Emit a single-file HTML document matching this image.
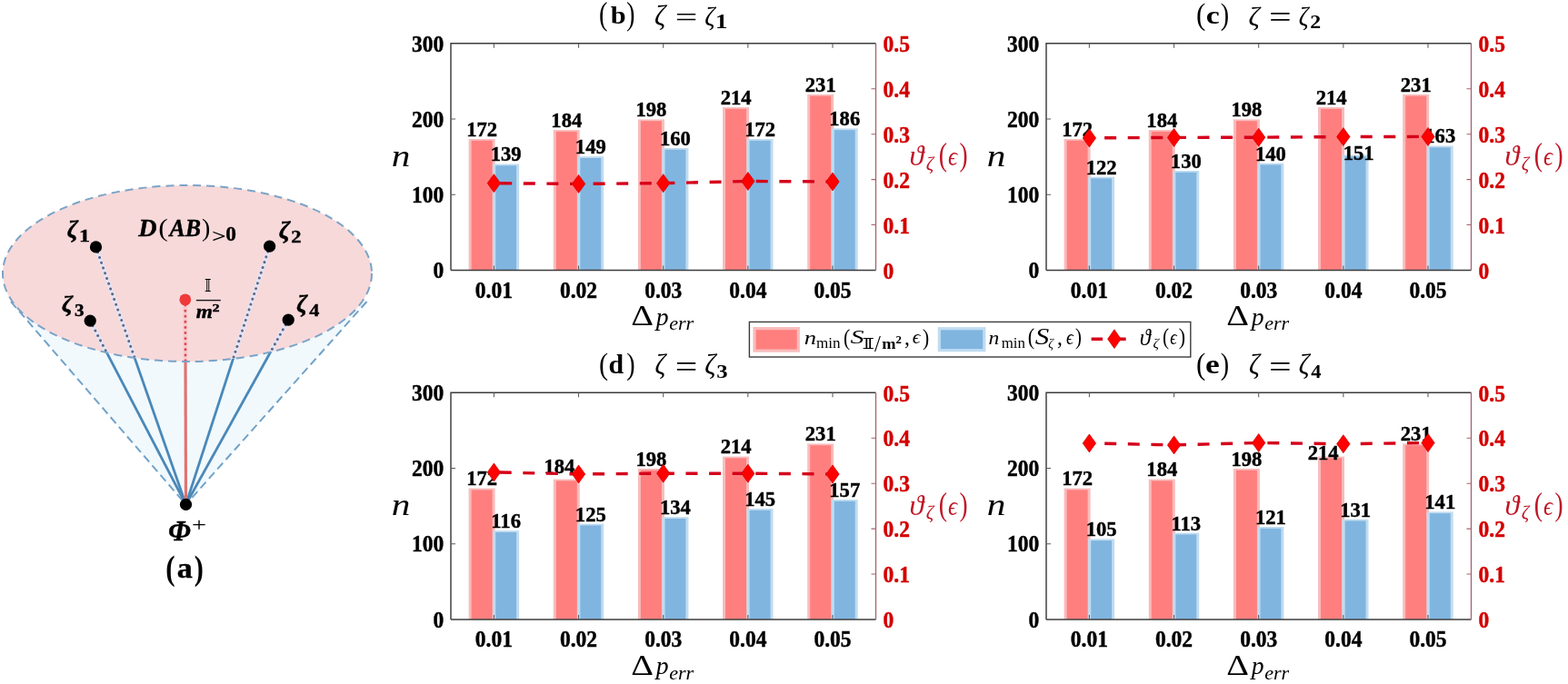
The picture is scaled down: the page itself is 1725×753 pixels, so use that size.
<!DOCTYPE html>
<html><head><meta charset="utf-8"><title>Figure</title>
<style>html,body{margin:0;padding:0;background:#fff;} svg{display:block;}</style></head>
<body><svg width="1725" height="753" viewBox="0 0 1725 753">
<rect width="1725" height="753" fill="#fff"/>
<g id="panel-a">
<polygon points="12,332 204.5,555.4 403.5,332 206,301" fill="#f1f9fd"/>
<line x1="12" y1="332" x2="204.5" y2="555.4" stroke="#72a2c8" stroke-width="2" stroke-dasharray="9 5"/>
<line x1="403.5" y1="332" x2="204.5" y2="555.4" stroke="#72a2c8" stroke-width="2" stroke-dasharray="9 5"/>
<line x1="105.5" y1="271.9" x2="204.5" y2="555.4" stroke="#4a88b8" stroke-width="2.8"/>
<line x1="296.6" y1="271.2" x2="204.5" y2="555.4" stroke="#4a88b8" stroke-width="2.8"/>
<line x1="99.2" y1="353.2" x2="204.5" y2="555.4" stroke="#4a88b8" stroke-width="2.8"/>
<line x1="317.2" y1="352.2" x2="204.5" y2="555.4" stroke="#4a88b8" stroke-width="2.8"/>
<line x1="203.8" y1="329.9" x2="204.5" y2="555.4" stroke="#e27272" stroke-width="3.2"/>
<ellipse cx="206" cy="301" rx="203" ry="97" fill="#f7d9da"/>
<defs><clipPath id="ell"><ellipse cx="206" cy="301" rx="203" ry="97"/></clipPath></defs>
<g clip-path="url(#ell)">
<line x1="105.5" y1="271.9" x2="204.5" y2="555.4" stroke="#e6e3f3" stroke-width="4.6"/>
<line x1="105.5" y1="271.9" x2="204.5" y2="555.4" stroke="#56698a" stroke-width="2.9" stroke-linecap="round" stroke-dasharray="0.1 6"/>
<line x1="296.6" y1="271.2" x2="204.5" y2="555.4" stroke="#e6e3f3" stroke-width="4.6"/>
<line x1="296.6" y1="271.2" x2="204.5" y2="555.4" stroke="#56698a" stroke-width="2.9" stroke-linecap="round" stroke-dasharray="0.1 6"/>
<line x1="99.2" y1="353.2" x2="204.5" y2="555.4" stroke="#e6e3f3" stroke-width="4.6"/>
<line x1="99.2" y1="353.2" x2="204.5" y2="555.4" stroke="#56698a" stroke-width="2.9" stroke-linecap="round" stroke-dasharray="0.1 6"/>
<line x1="317.2" y1="352.2" x2="204.5" y2="555.4" stroke="#e6e3f3" stroke-width="4.6"/>
<line x1="317.2" y1="352.2" x2="204.5" y2="555.4" stroke="#56698a" stroke-width="2.9" stroke-linecap="round" stroke-dasharray="0.1 6"/>
<line x1="203.8" y1="329.9" x2="204.5" y2="555.4" stroke="#f9c8cc" stroke-width="4.6"/>
<line x1="203.8" y1="329.9" x2="204.5" y2="555.4" stroke="#e04450" stroke-width="2.9" stroke-linecap="round" stroke-dasharray="0.1 6"/>
</g>
<ellipse cx="206" cy="301" rx="203" ry="97" fill="none" stroke="#7ba3c6" stroke-width="2" stroke-dasharray="9 6"/>
<circle cx="105.5" cy="271.9" r="6.6" fill="#000"/>
<circle cx="296.6" cy="271.2" r="6.6" fill="#000"/>
<circle cx="99.2" cy="353.2" r="6.6" fill="#000"/>
<circle cx="317.2" cy="352.2" r="6.6" fill="#000"/>
<circle cx="203.8" cy="329.9" r="6.4" fill="#ee3a3a"/>
<circle cx="204.5" cy="555.4" r="6.6" fill="#000"/>
<text x="73.75" y="261.31" font-size="27.16" font-family="Liberation Serif, serif" font-weight="bold" font-style="italic" stroke="#000" stroke-width="0.4">ζ</text>
<text transform="translate(86.98,266.20) scale(1.291,1)" font-size="18.64" font-family="Liberation Serif, serif" font-weight="bold" stroke="#000" stroke-width="0.4">1</text>
<text transform="translate(306.64,261.69) scale(1.049,1)" font-size="26.70" font-family="Liberation Serif, serif" font-weight="bold" font-style="italic" stroke="#000" stroke-width="0.4">ζ</text>
<text transform="translate(320.20,266.90) scale(1.233,1)" font-size="18.18" font-family="Liberation Serif, serif" font-weight="bold" stroke="#000" stroke-width="0.4">2</text>
<text transform="translate(68.05,343.22) scale(1.050,1)" font-size="26.02" font-family="Liberation Serif, serif" font-weight="bold" font-style="italic" stroke="#000" stroke-width="0.4">ζ</text>
<text transform="translate(82.05,348.01) scale(1.126,1)" font-size="18.81" font-family="Liberation Serif, serif" font-weight="bold" stroke="#000" stroke-width="0.4">3</text>
<text x="326.37" y="342.69" font-size="26.70" font-family="Liberation Serif, serif" font-weight="bold" font-style="italic" stroke="#000" stroke-width="0.4">ζ</text>
<text transform="translate(340.17,347.50) scale(1.133,1)" font-size="19.55" font-family="Liberation Serif, serif" font-weight="bold" stroke="#000" stroke-width="0.4">4</text>
<text transform="translate(152.14,259.70) scale(1.016,1)" font-size="27.63" font-family="Liberation Serif, serif" font-weight="bold" font-style="italic" stroke="#000" stroke-width="0.4">D</text>
<text transform="translate(174.19,259.84) scale(1.143,1)" font-size="27.44" font-family="Liberation Serif, serif">(</text>
<text transform="translate(186.59,259.70) scale(0.965,1)" font-size="26.82" font-family="Liberation Serif, serif" font-weight="bold" font-style="italic" stroke="#000" stroke-width="0.4">AB</text>
<text transform="translate(222.06,259.84) scale(1.023,1)" font-size="27.44" font-family="Liberation Serif, serif">)</text>
<text transform="translate(233.01,266.56) scale(1.334,1)" font-size="20.80" font-family="Liberation Serif, serif" font-weight="bold">&gt;</text>
<text transform="translate(248.37,264.68) scale(1.057,1)" font-size="22.07" font-family="Liberation Serif, serif" font-weight="bold" stroke="#000" stroke-width="0.4">0</text>
<text transform="translate(225.08,321.20) scale(0.885,1)" font-size="18.08" font-family="DejaVu Serif, serif">𝕀</text>
<rect x="215.9" y="329.9" width="26.9" height="1.4" fill="#1a1a1a"/>
<text transform="translate(215.73,349.50) scale(1.133,1)" font-size="20.64" font-family="Liberation Serif, serif" font-weight="bold" font-style="italic" stroke="#000" stroke-width="0.4">m</text>
<text transform="translate(233.45,343.20) scale(1.225,1)" font-size="13.18" font-family="Liberation Serif, serif" font-weight="bold" stroke="#000" stroke-width="0.4">2</text>
<text transform="translate(185.00,594.60) scale(0.987,1)" font-size="31.91" font-family="Liberation Serif, serif" font-weight="bold" font-style="italic" stroke="#000" stroke-width="0.4">Φ</text>
<text transform="translate(210.98,584.76) scale(1.308,1)" font-size="21.70" font-family="Liberation Serif, serif">+</text>
<text transform="translate(182.31,637.61) scale(0.835,1)" font-size="37.11" font-family="Liberation Serif, serif" font-weight="bold">(</text>
<text transform="translate(194.68,636.18) scale(1.055,1)" font-size="32.29" font-family="Liberation Serif, serif" font-weight="bold" stroke="#000" stroke-width="0.4">a</text>
<text transform="translate(213.79,637.61) scale(0.819,1)" font-size="37.11" font-family="Liberation Serif, serif" font-weight="bold">)</text>
</g>
<g id="chart-b" transform="translate(0,0)">
<rect x="515.60" y="153.04" width="29.00" height="144.46" fill="#f8bcbc"/>
<rect x="518.60" y="154.84" width="23.00" height="142.66" fill="#ff7f7f"/>
<rect x="542.20" y="180.51" width="28.90" height="116.99" fill="#c0dcf0"/>
<rect x="545.20" y="182.31" width="22.90" height="115.19" fill="#80b5e0"/>
<rect x="608.75" y="143.05" width="29.00" height="154.45" fill="#f8bcbc"/>
<rect x="611.75" y="144.85" width="23.00" height="152.65" fill="#ff7f7f"/>
<rect x="635.35" y="172.18" width="28.90" height="125.32" fill="#c0dcf0"/>
<rect x="638.35" y="173.98" width="22.90" height="123.52" fill="#80b5e0"/>
<rect x="701.90" y="131.40" width="29.00" height="166.10" fill="#f8bcbc"/>
<rect x="704.90" y="133.20" width="23.00" height="164.30" fill="#ff7f7f"/>
<rect x="728.50" y="163.03" width="28.90" height="134.47" fill="#c0dcf0"/>
<rect x="731.50" y="164.83" width="22.90" height="132.67" fill="#80b5e0"/>
<rect x="795.05" y="118.08" width="29.00" height="179.42" fill="#f8bcbc"/>
<rect x="798.05" y="119.88" width="23.00" height="177.62" fill="#ff7f7f"/>
<rect x="821.65" y="153.04" width="28.90" height="144.46" fill="#c0dcf0"/>
<rect x="824.65" y="154.84" width="22.90" height="142.66" fill="#80b5e0"/>
<rect x="888.20" y="103.93" width="29.00" height="193.57" fill="#f8bcbc"/>
<rect x="891.20" y="105.73" width="23.00" height="191.77" fill="#ff7f7f"/>
<rect x="914.80" y="141.39" width="28.90" height="156.11" fill="#c0dcf0"/>
<rect x="917.80" y="143.19" width="22.90" height="154.31" fill="#80b5e0"/>
<path d="M496.0,297.5 L496.0,47.8 L963.5,47.8" fill="none" stroke="#3c3c3c" stroke-width="1.45"/>
<path d="M496.0,297.5 L963.5,297.5" fill="none" stroke="#3c3c3c" stroke-width="1.45"/>
<path d="M963.5,47.8 L963.5,297.5" fill="none" stroke="#a8606c" stroke-width="1.3"/>
<path d="M496.0,214.27 h5 M496.0,131.03 h5" stroke="#5a5a5a" stroke-width="1.05"/>
<path d="M963.5,247.56 h-5 M963.5,197.62 h-5 M963.5,147.68 h-5 M963.5,97.74 h-5" stroke="#a8606c" stroke-width="1.1"/>
<path d="M543.40,297.5 v-5 M543.40,47.8 v5 M636.55,297.5 v-5 M636.55,47.8 v5 M729.70,297.5 v-5 M729.70,47.8 v5 M822.85,297.5 v-5 M822.85,47.8 v5 M916.00,297.5 v-5 M916.00,47.8 v5" stroke="#5a5a5a" stroke-width="1.05"/>
<text transform="translate(488.2,306.20) scale(0.96,1)" font-size="24.5" font-family="Liberation Serif, serif" font-weight="bold" text-anchor="end" stroke="#000" stroke-width="0.45">0</text>
<text transform="translate(488.2,222.97) scale(0.96,1)" font-size="24.5" font-family="Liberation Serif, serif" font-weight="bold" text-anchor="end" stroke="#000" stroke-width="0.45">100</text>
<text transform="translate(488.2,139.73) scale(0.96,1)" font-size="24.5" font-family="Liberation Serif, serif" font-weight="bold" text-anchor="end" stroke="#000" stroke-width="0.45">200</text>
<text transform="translate(488.2,56.50) scale(0.96,1)" font-size="24.5" font-family="Liberation Serif, serif" font-weight="bold" text-anchor="end" stroke="#000" stroke-width="0.45">300</text>
<text transform="translate(971.6,306.70) scale(0.96,1)" font-size="24.5" font-family="Liberation Serif, serif" font-weight="bold" fill="#d40000" stroke="#d40000" stroke-width="0.45">0</text>
<text transform="translate(971.6,256.76) scale(0.96,1)" font-size="24.5" font-family="Liberation Serif, serif" font-weight="bold" fill="#d40000" stroke="#d40000" stroke-width="0.45">0.1</text>
<text transform="translate(971.6,206.82) scale(0.96,1)" font-size="24.5" font-family="Liberation Serif, serif" font-weight="bold" fill="#d40000" stroke="#d40000" stroke-width="0.45">0.2</text>
<text transform="translate(971.6,156.88) scale(0.96,1)" font-size="24.5" font-family="Liberation Serif, serif" font-weight="bold" fill="#d40000" stroke="#d40000" stroke-width="0.45">0.3</text>
<text transform="translate(971.6,106.94) scale(0.96,1)" font-size="24.5" font-family="Liberation Serif, serif" font-weight="bold" fill="#d40000" stroke="#d40000" stroke-width="0.45">0.4</text>
<text transform="translate(971.6,57.00) scale(0.96,1)" font-size="24.5" font-family="Liberation Serif, serif" font-weight="bold" fill="#d40000" stroke="#d40000" stroke-width="0.45">0.5</text>
<text transform="translate(543.40,327.5) scale(0.96,1)" font-size="24.5" font-family="Liberation Serif, serif" font-weight="bold" text-anchor="middle" stroke="#000" stroke-width="0.45">0.01</text>
<text transform="translate(636.55,327.5) scale(0.96,1)" font-size="24.5" font-family="Liberation Serif, serif" font-weight="bold" text-anchor="middle" stroke="#000" stroke-width="0.45">0.02</text>
<text transform="translate(729.70,327.5) scale(0.96,1)" font-size="24.5" font-family="Liberation Serif, serif" font-weight="bold" text-anchor="middle" stroke="#000" stroke-width="0.45">0.03</text>
<text transform="translate(822.85,327.5) scale(0.96,1)" font-size="24.5" font-family="Liberation Serif, serif" font-weight="bold" text-anchor="middle" stroke="#000" stroke-width="0.45">0.04</text>
<text transform="translate(916.00,327.5) scale(0.96,1)" font-size="24.5" font-family="Liberation Serif, serif" font-weight="bold" text-anchor="middle" stroke="#000" stroke-width="0.45">0.05</text>
<text transform="translate(530.15,149.94) scale(0.95,1)" font-size="23.8" font-family="Liberation Serif, serif" font-weight="bold" text-anchor="middle" stroke="#000" stroke-width="0.45">172</text>
<text transform="translate(556.65,177.41) scale(0.95,1)" font-size="23.8" font-family="Liberation Serif, serif" font-weight="bold" text-anchor="middle" stroke="#000" stroke-width="0.45">139</text>
<text transform="translate(623.30,139.95) scale(0.95,1)" font-size="23.8" font-family="Liberation Serif, serif" font-weight="bold" text-anchor="middle" stroke="#000" stroke-width="0.45">184</text>
<text transform="translate(649.80,169.08) scale(0.95,1)" font-size="23.8" font-family="Liberation Serif, serif" font-weight="bold" text-anchor="middle" stroke="#000" stroke-width="0.45">149</text>
<text transform="translate(716.45,128.30) scale(0.95,1)" font-size="23.8" font-family="Liberation Serif, serif" font-weight="bold" text-anchor="middle" stroke="#000" stroke-width="0.45">198</text>
<text transform="translate(742.95,159.93) scale(0.95,1)" font-size="23.8" font-family="Liberation Serif, serif" font-weight="bold" text-anchor="middle" stroke="#000" stroke-width="0.45">160</text>
<text transform="translate(809.60,114.98) scale(0.95,1)" font-size="23.8" font-family="Liberation Serif, serif" font-weight="bold" text-anchor="middle" stroke="#000" stroke-width="0.45">214</text>
<text transform="translate(836.10,149.94) scale(0.95,1)" font-size="23.8" font-family="Liberation Serif, serif" font-weight="bold" text-anchor="middle" stroke="#000" stroke-width="0.45">172</text>
<text transform="translate(902.75,100.83) scale(0.95,1)" font-size="23.8" font-family="Liberation Serif, serif" font-weight="bold" text-anchor="middle" stroke="#000" stroke-width="0.45">231</text>
<text transform="translate(929.25,138.29) scale(0.95,1)" font-size="23.8" font-family="Liberation Serif, serif" font-weight="bold" text-anchor="middle" stroke="#000" stroke-width="0.45">186</text>
<path d="M543.40,201.70 L636.55,202.40 L729.70,201.70 L822.85,199.50 L916.00,200.00" fill="none" stroke="#d5001a" stroke-width="3.4" stroke-dasharray="13.0 12.600000000000001" stroke-dashoffset="18.80"/>
<polygon points="543.40,191.70 550.60,201.70 543.40,211.70 536.20,201.70" fill="#ff0000" stroke="#c80000" stroke-width="0.7"/>
<polygon points="636.55,192.40 643.75,202.40 636.55,212.40 629.35,202.40" fill="#ff0000" stroke="#c80000" stroke-width="0.7"/>
<polygon points="729.70,191.70 736.90,201.70 729.70,211.70 722.50,201.70" fill="#ff0000" stroke="#c80000" stroke-width="0.7"/>
<polygon points="822.85,189.50 830.05,199.50 822.85,209.50 815.65,199.50" fill="#ff0000" stroke="#c80000" stroke-width="0.7"/>
<polygon points="916.00,190.00 923.20,200.00 916.00,210.00 908.80,200.00" fill="#ff0000" stroke="#c80000" stroke-width="0.7"/>
<text transform="translate(430.76,182.90) scale(1.217,1)" font-size="33.83" font-family="Liberation Serif, serif" font-style="italic">n</text>
<text transform="translate(1000.45,182.29) scale(1.029,1)" font-size="31.35" font-family="Liberation Serif, serif" font-style="italic" fill="#c01526">ϑ</text>
<text transform="translate(1018.87,186.99) scale(0.984,1)" font-size="21.26" font-family="Liberation Serif, serif" font-style="italic" fill="#c01526">ζ</text>
<text transform="translate(1032.65,182.40) scale(0.801,1)" font-size="34.78" font-family="Liberation Serif, serif" fill="#c01526">(</text>
<text transform="translate(1042.94,182.30) scale(0.840,1)" font-size="30.00" font-family="Liberation Serif, serif" font-style="italic" fill="#c01526">ϵ</text>
<text transform="translate(1055.48,182.40) scale(0.785,1)" font-size="34.78" font-family="Liberation Serif, serif" fill="#c01526">)</text>
<text transform="translate(694.36,358.00) scale(1.207,1)" font-size="31.82" font-family="Liberation Serif, serif">Δ</text>
<text x="721.85" y="357.99" font-size="27.65" font-family="Liberation Serif, serif" font-style="italic">p</text>
<text transform="translate(736.14,363.00) scale(1.105,1)" font-size="20.00" font-family="Liberation Serif, serif" font-style="italic">err</text>
<text transform="translate(659.03,27.10) scale(0.812,1)" font-size="34.78" font-family="Liberation Serif, serif">(</text>
<text transform="translate(671.84,25.82) scale(1.075,1)" font-size="28.29" font-family="Liberation Serif, serif" font-weight="bold">b</text>
<text transform="translate(689.37,27.10) scale(0.796,1)" font-size="34.78" font-family="Liberation Serif, serif">)</text>
<text transform="translate(719.99,27.70) scale(0.989,1)" font-size="30.57" font-family="Liberation Serif, serif" font-style="italic">ζ</text>
<text transform="translate(742.72,28.99) scale(1.495,1)" font-size="29.20" font-family="Liberation Serif, serif">=</text>
<text transform="translate(775.36,27.80) scale(0.930,1)" font-size="30.00" font-family="Liberation Serif, serif" font-style="italic">ζ</text>
<text transform="translate(787.06,31.30) scale(1.210,1)" font-size="22.12" font-family="Liberation Serif, serif" font-weight="bold">1</text>
</g>
<g id="chart-c" transform="translate(655,0)">
<rect x="515.60" y="153.04" width="29.00" height="144.46" fill="#f8bcbc"/>
<rect x="518.60" y="154.84" width="23.00" height="142.66" fill="#ff7f7f"/>
<rect x="542.20" y="194.66" width="28.90" height="102.84" fill="#c0dcf0"/>
<rect x="545.20" y="196.46" width="22.90" height="101.04" fill="#80b5e0"/>
<rect x="608.75" y="143.05" width="29.00" height="154.45" fill="#f8bcbc"/>
<rect x="611.75" y="144.85" width="23.00" height="152.65" fill="#ff7f7f"/>
<rect x="635.35" y="188.00" width="28.90" height="109.50" fill="#c0dcf0"/>
<rect x="638.35" y="189.80" width="22.90" height="107.70" fill="#80b5e0"/>
<rect x="701.90" y="131.40" width="29.00" height="166.10" fill="#f8bcbc"/>
<rect x="704.90" y="133.20" width="23.00" height="164.30" fill="#ff7f7f"/>
<rect x="728.50" y="179.67" width="28.90" height="117.83" fill="#c0dcf0"/>
<rect x="731.50" y="181.47" width="22.90" height="116.03" fill="#80b5e0"/>
<rect x="795.05" y="118.08" width="29.00" height="179.42" fill="#f8bcbc"/>
<rect x="798.05" y="119.88" width="23.00" height="177.62" fill="#ff7f7f"/>
<rect x="821.65" y="170.52" width="28.90" height="126.98" fill="#c0dcf0"/>
<rect x="824.65" y="172.32" width="22.90" height="125.18" fill="#80b5e0"/>
<rect x="888.20" y="103.93" width="29.00" height="193.57" fill="#f8bcbc"/>
<rect x="891.20" y="105.73" width="23.00" height="191.77" fill="#ff7f7f"/>
<rect x="914.80" y="160.53" width="28.90" height="136.97" fill="#c0dcf0"/>
<rect x="917.80" y="162.33" width="22.90" height="135.17" fill="#80b5e0"/>
<path d="M496.0,297.5 L496.0,47.8 L963.5,47.8" fill="none" stroke="#3c3c3c" stroke-width="1.45"/>
<path d="M496.0,297.5 L963.5,297.5" fill="none" stroke="#3c3c3c" stroke-width="1.45"/>
<path d="M963.5,47.8 L963.5,297.5" fill="none" stroke="#a8606c" stroke-width="1.3"/>
<path d="M496.0,214.27 h5 M496.0,131.03 h5" stroke="#5a5a5a" stroke-width="1.05"/>
<path d="M963.5,247.56 h-5 M963.5,197.62 h-5 M963.5,147.68 h-5 M963.5,97.74 h-5" stroke="#a8606c" stroke-width="1.1"/>
<path d="M543.40,297.5 v-5 M543.40,47.8 v5 M636.55,297.5 v-5 M636.55,47.8 v5 M729.70,297.5 v-5 M729.70,47.8 v5 M822.85,297.5 v-5 M822.85,47.8 v5 M916.00,297.5 v-5 M916.00,47.8 v5" stroke="#5a5a5a" stroke-width="1.05"/>
<text transform="translate(488.2,306.20) scale(0.96,1)" font-size="24.5" font-family="Liberation Serif, serif" font-weight="bold" text-anchor="end" stroke="#000" stroke-width="0.45">0</text>
<text transform="translate(488.2,222.97) scale(0.96,1)" font-size="24.5" font-family="Liberation Serif, serif" font-weight="bold" text-anchor="end" stroke="#000" stroke-width="0.45">100</text>
<text transform="translate(488.2,139.73) scale(0.96,1)" font-size="24.5" font-family="Liberation Serif, serif" font-weight="bold" text-anchor="end" stroke="#000" stroke-width="0.45">200</text>
<text transform="translate(488.2,56.50) scale(0.96,1)" font-size="24.5" font-family="Liberation Serif, serif" font-weight="bold" text-anchor="end" stroke="#000" stroke-width="0.45">300</text>
<text transform="translate(971.6,306.70) scale(0.96,1)" font-size="24.5" font-family="Liberation Serif, serif" font-weight="bold" fill="#d40000" stroke="#d40000" stroke-width="0.45">0</text>
<text transform="translate(971.6,256.76) scale(0.96,1)" font-size="24.5" font-family="Liberation Serif, serif" font-weight="bold" fill="#d40000" stroke="#d40000" stroke-width="0.45">0.1</text>
<text transform="translate(971.6,206.82) scale(0.96,1)" font-size="24.5" font-family="Liberation Serif, serif" font-weight="bold" fill="#d40000" stroke="#d40000" stroke-width="0.45">0.2</text>
<text transform="translate(971.6,156.88) scale(0.96,1)" font-size="24.5" font-family="Liberation Serif, serif" font-weight="bold" fill="#d40000" stroke="#d40000" stroke-width="0.45">0.3</text>
<text transform="translate(971.6,106.94) scale(0.96,1)" font-size="24.5" font-family="Liberation Serif, serif" font-weight="bold" fill="#d40000" stroke="#d40000" stroke-width="0.45">0.4</text>
<text transform="translate(971.6,57.00) scale(0.96,1)" font-size="24.5" font-family="Liberation Serif, serif" font-weight="bold" fill="#d40000" stroke="#d40000" stroke-width="0.45">0.5</text>
<text transform="translate(543.40,327.5) scale(0.96,1)" font-size="24.5" font-family="Liberation Serif, serif" font-weight="bold" text-anchor="middle" stroke="#000" stroke-width="0.45">0.01</text>
<text transform="translate(636.55,327.5) scale(0.96,1)" font-size="24.5" font-family="Liberation Serif, serif" font-weight="bold" text-anchor="middle" stroke="#000" stroke-width="0.45">0.02</text>
<text transform="translate(729.70,327.5) scale(0.96,1)" font-size="24.5" font-family="Liberation Serif, serif" font-weight="bold" text-anchor="middle" stroke="#000" stroke-width="0.45">0.03</text>
<text transform="translate(822.85,327.5) scale(0.96,1)" font-size="24.5" font-family="Liberation Serif, serif" font-weight="bold" text-anchor="middle" stroke="#000" stroke-width="0.45">0.04</text>
<text transform="translate(916.00,327.5) scale(0.96,1)" font-size="24.5" font-family="Liberation Serif, serif" font-weight="bold" text-anchor="middle" stroke="#000" stroke-width="0.45">0.05</text>
<text transform="translate(530.15,149.94) scale(0.95,1)" font-size="23.8" font-family="Liberation Serif, serif" font-weight="bold" text-anchor="middle" stroke="#000" stroke-width="0.45">172</text>
<text transform="translate(556.65,191.56) scale(0.95,1)" font-size="23.8" font-family="Liberation Serif, serif" font-weight="bold" text-anchor="middle" stroke="#000" stroke-width="0.45">122</text>
<text transform="translate(623.30,139.95) scale(0.95,1)" font-size="23.8" font-family="Liberation Serif, serif" font-weight="bold" text-anchor="middle" stroke="#000" stroke-width="0.45">184</text>
<text transform="translate(649.80,184.90) scale(0.95,1)" font-size="23.8" font-family="Liberation Serif, serif" font-weight="bold" text-anchor="middle" stroke="#000" stroke-width="0.45">130</text>
<text transform="translate(716.45,128.30) scale(0.95,1)" font-size="23.8" font-family="Liberation Serif, serif" font-weight="bold" text-anchor="middle" stroke="#000" stroke-width="0.45">198</text>
<text transform="translate(742.95,176.57) scale(0.95,1)" font-size="23.8" font-family="Liberation Serif, serif" font-weight="bold" text-anchor="middle" stroke="#000" stroke-width="0.45">140</text>
<text transform="translate(809.60,114.98) scale(0.95,1)" font-size="23.8" font-family="Liberation Serif, serif" font-weight="bold" text-anchor="middle" stroke="#000" stroke-width="0.45">214</text>
<text transform="translate(839.60,175.92) scale(0.95,1)" font-size="23.8" font-family="Liberation Serif, serif" font-weight="bold" text-anchor="middle" stroke="#000" stroke-width="0.45">151</text>
<text transform="translate(902.75,100.83) scale(0.95,1)" font-size="23.8" font-family="Liberation Serif, serif" font-weight="bold" text-anchor="middle" stroke="#000" stroke-width="0.45">231</text>
<text transform="translate(929.25,157.43) scale(0.95,1)" font-size="23.8" font-family="Liberation Serif, serif" font-weight="bold" text-anchor="middle" stroke="#000" stroke-width="0.45">163</text>
<path d="M543.40,151.90 L636.55,151.40 L729.70,151.20 L822.85,150.60 L916.00,150.40" fill="none" stroke="#d5001a" stroke-width="3.4" stroke-dasharray="13.0 12.600000000000001" stroke-dashoffset="8.90"/>
<polygon points="543.40,141.90 550.60,151.90 543.40,161.90 536.20,151.90" fill="#ff0000" stroke="#c80000" stroke-width="0.7"/>
<polygon points="636.55,141.40 643.75,151.40 636.55,161.40 629.35,151.40" fill="#ff0000" stroke="#c80000" stroke-width="0.7"/>
<polygon points="729.70,141.20 736.90,151.20 729.70,161.20 722.50,151.20" fill="#ff0000" stroke="#c80000" stroke-width="0.7"/>
<polygon points="822.85,140.60 830.05,150.60 822.85,160.60 815.65,150.60" fill="#ff0000" stroke="#c80000" stroke-width="0.7"/>
<polygon points="916.00,140.40 923.20,150.40 916.00,160.40 908.80,150.40" fill="#ff0000" stroke="#c80000" stroke-width="0.7"/>
<text transform="translate(430.76,182.90) scale(1.217,1)" font-size="33.83" font-family="Liberation Serif, serif" font-style="italic">n</text>
<text transform="translate(1000.45,182.29) scale(1.029,1)" font-size="31.35" font-family="Liberation Serif, serif" font-style="italic" fill="#c01526">ϑ</text>
<text transform="translate(1018.87,186.99) scale(0.984,1)" font-size="21.26" font-family="Liberation Serif, serif" font-style="italic" fill="#c01526">ζ</text>
<text transform="translate(1032.65,182.40) scale(0.801,1)" font-size="34.78" font-family="Liberation Serif, serif" fill="#c01526">(</text>
<text transform="translate(1042.94,182.30) scale(0.840,1)" font-size="30.00" font-family="Liberation Serif, serif" font-style="italic" fill="#c01526">ϵ</text>
<text transform="translate(1055.48,182.40) scale(0.785,1)" font-size="34.78" font-family="Liberation Serif, serif" fill="#c01526">)</text>
<text transform="translate(694.36,358.00) scale(1.207,1)" font-size="31.82" font-family="Liberation Serif, serif">Δ</text>
<text x="721.85" y="357.99" font-size="27.65" font-family="Liberation Serif, serif" font-style="italic">p</text>
<text transform="translate(736.14,363.00) scale(1.105,1)" font-size="20.00" font-family="Liberation Serif, serif" font-style="italic">err</text>
<text transform="translate(661.01,27.24) scale(0.908,1)" font-size="34.11" font-family="Liberation Serif, serif">(</text>
<text transform="translate(671.72,25.83) scale(1.237,1)" font-size="27.29" font-family="Liberation Serif, serif" font-weight="bold">c</text>
<text transform="translate(687.66,27.24) scale(0.823,1)" font-size="34.11" font-family="Liberation Serif, serif">)</text>
<text transform="translate(718.39,28.00) scale(1.056,1)" font-size="28.85" font-family="Liberation Serif, serif" font-style="italic">ζ</text>
<text transform="translate(741.11,29.89) scale(1.306,1)" font-size="33.60" font-family="Liberation Serif, serif">=</text>
<text transform="translate(773.80,28.00) scale(0.927,1)" font-size="28.85" font-family="Liberation Serif, serif" font-style="italic">ζ</text>
<text transform="translate(786.15,31.30) scale(1.117,1)" font-size="21.36" font-family="Liberation Serif, serif" font-weight="bold">2</text>
</g>
<g id="chart-d" transform="translate(0,384.5)">
<rect x="515.60" y="153.04" width="29.00" height="144.46" fill="#f8bcbc"/>
<rect x="518.60" y="154.84" width="23.00" height="142.66" fill="#ff7f7f"/>
<rect x="542.20" y="199.65" width="28.90" height="97.85" fill="#c0dcf0"/>
<rect x="545.20" y="201.45" width="22.90" height="96.05" fill="#80b5e0"/>
<rect x="608.75" y="143.05" width="29.00" height="154.45" fill="#f8bcbc"/>
<rect x="611.75" y="144.85" width="23.00" height="152.65" fill="#ff7f7f"/>
<rect x="635.35" y="192.16" width="28.90" height="105.34" fill="#c0dcf0"/>
<rect x="638.35" y="193.96" width="22.90" height="103.54" fill="#80b5e0"/>
<rect x="701.90" y="131.40" width="29.00" height="166.10" fill="#f8bcbc"/>
<rect x="704.90" y="133.20" width="23.00" height="164.30" fill="#ff7f7f"/>
<rect x="728.50" y="184.67" width="28.90" height="112.83" fill="#c0dcf0"/>
<rect x="731.50" y="186.47" width="22.90" height="111.03" fill="#80b5e0"/>
<rect x="795.05" y="118.08" width="29.00" height="179.42" fill="#f8bcbc"/>
<rect x="798.05" y="119.88" width="23.00" height="177.62" fill="#ff7f7f"/>
<rect x="821.65" y="175.51" width="28.90" height="121.99" fill="#c0dcf0"/>
<rect x="824.65" y="177.31" width="22.90" height="120.19" fill="#80b5e0"/>
<rect x="888.20" y="103.93" width="29.00" height="193.57" fill="#f8bcbc"/>
<rect x="891.20" y="105.73" width="23.00" height="191.77" fill="#ff7f7f"/>
<rect x="914.80" y="165.52" width="28.90" height="131.98" fill="#c0dcf0"/>
<rect x="917.80" y="167.32" width="22.90" height="130.18" fill="#80b5e0"/>
<path d="M496.0,297.5 L496.0,47.8 L963.5,47.8" fill="none" stroke="#3c3c3c" stroke-width="1.45"/>
<path d="M496.0,297.5 L963.5,297.5" fill="none" stroke="#3c3c3c" stroke-width="1.45"/>
<path d="M963.5,47.8 L963.5,297.5" fill="none" stroke="#a8606c" stroke-width="1.3"/>
<path d="M496.0,214.27 h5 M496.0,131.03 h5" stroke="#5a5a5a" stroke-width="1.05"/>
<path d="M963.5,247.56 h-5 M963.5,197.62 h-5 M963.5,147.68 h-5 M963.5,97.74 h-5" stroke="#a8606c" stroke-width="1.1"/>
<path d="M543.40,297.5 v-5 M543.40,47.8 v5 M636.55,297.5 v-5 M636.55,47.8 v5 M729.70,297.5 v-5 M729.70,47.8 v5 M822.85,297.5 v-5 M822.85,47.8 v5 M916.00,297.5 v-5 M916.00,47.8 v5" stroke="#5a5a5a" stroke-width="1.05"/>
<text transform="translate(488.2,306.20) scale(0.96,1)" font-size="24.5" font-family="Liberation Serif, serif" font-weight="bold" text-anchor="end" stroke="#000" stroke-width="0.45">0</text>
<text transform="translate(488.2,222.97) scale(0.96,1)" font-size="24.5" font-family="Liberation Serif, serif" font-weight="bold" text-anchor="end" stroke="#000" stroke-width="0.45">100</text>
<text transform="translate(488.2,139.73) scale(0.96,1)" font-size="24.5" font-family="Liberation Serif, serif" font-weight="bold" text-anchor="end" stroke="#000" stroke-width="0.45">200</text>
<text transform="translate(488.2,56.50) scale(0.96,1)" font-size="24.5" font-family="Liberation Serif, serif" font-weight="bold" text-anchor="end" stroke="#000" stroke-width="0.45">300</text>
<text transform="translate(971.6,306.70) scale(0.96,1)" font-size="24.5" font-family="Liberation Serif, serif" font-weight="bold" fill="#d40000" stroke="#d40000" stroke-width="0.45">0</text>
<text transform="translate(971.6,256.76) scale(0.96,1)" font-size="24.5" font-family="Liberation Serif, serif" font-weight="bold" fill="#d40000" stroke="#d40000" stroke-width="0.45">0.1</text>
<text transform="translate(971.6,206.82) scale(0.96,1)" font-size="24.5" font-family="Liberation Serif, serif" font-weight="bold" fill="#d40000" stroke="#d40000" stroke-width="0.45">0.2</text>
<text transform="translate(971.6,156.88) scale(0.96,1)" font-size="24.5" font-family="Liberation Serif, serif" font-weight="bold" fill="#d40000" stroke="#d40000" stroke-width="0.45">0.3</text>
<text transform="translate(971.6,106.94) scale(0.96,1)" font-size="24.5" font-family="Liberation Serif, serif" font-weight="bold" fill="#d40000" stroke="#d40000" stroke-width="0.45">0.4</text>
<text transform="translate(971.6,57.00) scale(0.96,1)" font-size="24.5" font-family="Liberation Serif, serif" font-weight="bold" fill="#d40000" stroke="#d40000" stroke-width="0.45">0.5</text>
<text transform="translate(543.40,327.5) scale(0.96,1)" font-size="24.5" font-family="Liberation Serif, serif" font-weight="bold" text-anchor="middle" stroke="#000" stroke-width="0.45">0.01</text>
<text transform="translate(636.55,327.5) scale(0.96,1)" font-size="24.5" font-family="Liberation Serif, serif" font-weight="bold" text-anchor="middle" stroke="#000" stroke-width="0.45">0.02</text>
<text transform="translate(729.70,327.5) scale(0.96,1)" font-size="24.5" font-family="Liberation Serif, serif" font-weight="bold" text-anchor="middle" stroke="#000" stroke-width="0.45">0.03</text>
<text transform="translate(822.85,327.5) scale(0.96,1)" font-size="24.5" font-family="Liberation Serif, serif" font-weight="bold" text-anchor="middle" stroke="#000" stroke-width="0.45">0.04</text>
<text transform="translate(916.00,327.5) scale(0.96,1)" font-size="24.5" font-family="Liberation Serif, serif" font-weight="bold" text-anchor="middle" stroke="#000" stroke-width="0.45">0.05</text>
<text transform="translate(530.15,149.94) scale(0.95,1)" font-size="23.8" font-family="Liberation Serif, serif" font-weight="bold" text-anchor="middle" stroke="#000" stroke-width="0.45">172</text>
<text transform="translate(556.65,196.55) scale(0.95,1)" font-size="23.8" font-family="Liberation Serif, serif" font-weight="bold" text-anchor="middle" stroke="#000" stroke-width="0.45">116</text>
<text transform="translate(615.40,136.85) scale(0.95,1)" font-size="23.8" font-family="Liberation Serif, serif" font-weight="bold" text-anchor="middle" stroke="#000" stroke-width="0.45">184</text>
<text transform="translate(649.80,189.06) scale(0.95,1)" font-size="23.8" font-family="Liberation Serif, serif" font-weight="bold" text-anchor="middle" stroke="#000" stroke-width="0.45">125</text>
<text transform="translate(716.45,128.30) scale(0.95,1)" font-size="23.8" font-family="Liberation Serif, serif" font-weight="bold" text-anchor="middle" stroke="#000" stroke-width="0.45">198</text>
<text transform="translate(742.95,181.57) scale(0.95,1)" font-size="23.8" font-family="Liberation Serif, serif" font-weight="bold" text-anchor="middle" stroke="#000" stroke-width="0.45">134</text>
<text transform="translate(809.60,114.98) scale(0.95,1)" font-size="23.8" font-family="Liberation Serif, serif" font-weight="bold" text-anchor="middle" stroke="#000" stroke-width="0.45">214</text>
<text transform="translate(836.10,172.41) scale(0.95,1)" font-size="23.8" font-family="Liberation Serif, serif" font-weight="bold" text-anchor="middle" stroke="#000" stroke-width="0.45">145</text>
<text transform="translate(902.75,100.83) scale(0.95,1)" font-size="23.8" font-family="Liberation Serif, serif" font-weight="bold" text-anchor="middle" stroke="#000" stroke-width="0.45">231</text>
<text transform="translate(929.25,162.42) scale(0.95,1)" font-size="23.8" font-family="Liberation Serif, serif" font-weight="bold" text-anchor="middle" stroke="#000" stroke-width="0.45">157</text>
<path d="M543.40,135.40 L636.55,137.40 L729.70,136.70 L822.85,136.70 L916.00,137.40" fill="none" stroke="#d5001a" stroke-width="3.4" stroke-dasharray="13.0 12.600000000000001" stroke-dashoffset="19.30"/>
<polygon points="543.40,125.40 550.60,135.40 543.40,145.40 536.20,135.40" fill="#ff0000" stroke="#c80000" stroke-width="0.7"/>
<polygon points="636.55,127.40 643.75,137.40 636.55,147.40 629.35,137.40" fill="#ff0000" stroke="#c80000" stroke-width="0.7"/>
<polygon points="729.70,126.70 736.90,136.70 729.70,146.70 722.50,136.70" fill="#ff0000" stroke="#c80000" stroke-width="0.7"/>
<polygon points="822.85,126.70 830.05,136.70 822.85,146.70 815.65,136.70" fill="#ff0000" stroke="#c80000" stroke-width="0.7"/>
<polygon points="916.00,127.40 923.20,137.40 916.00,147.40 908.80,137.40" fill="#ff0000" stroke="#c80000" stroke-width="0.7"/>
<text transform="translate(430.76,182.90) scale(1.217,1)" font-size="33.83" font-family="Liberation Serif, serif" font-style="italic">n</text>
<text transform="translate(1000.45,182.29) scale(1.029,1)" font-size="31.35" font-family="Liberation Serif, serif" font-style="italic" fill="#c01526">ϑ</text>
<text transform="translate(1018.87,186.99) scale(0.984,1)" font-size="21.26" font-family="Liberation Serif, serif" font-style="italic" fill="#c01526">ζ</text>
<text transform="translate(1032.65,182.40) scale(0.801,1)" font-size="34.78" font-family="Liberation Serif, serif" fill="#c01526">(</text>
<text transform="translate(1042.94,182.30) scale(0.840,1)" font-size="30.00" font-family="Liberation Serif, serif" font-style="italic" fill="#c01526">ϵ</text>
<text transform="translate(1055.48,182.40) scale(0.785,1)" font-size="34.78" font-family="Liberation Serif, serif" fill="#c01526">)</text>
<text transform="translate(694.36,358.00) scale(1.207,1)" font-size="31.82" font-family="Liberation Serif, serif">Δ</text>
<text x="721.85" y="357.99" font-size="27.65" font-family="Liberation Serif, serif" font-style="italic">p</text>
<text transform="translate(736.14,363.00) scale(1.105,1)" font-size="20.00" font-family="Liberation Serif, serif" font-style="italic">err</text>
<text transform="translate(658.94,27.43) scale(0.897,1)" font-size="33.67" font-family="Liberation Serif, serif">(</text>
<text x="669.60" y="26.90" font-size="29.86" font-family="Liberation Serif, serif" font-weight="bold">d</text>
<text transform="translate(689.26,27.43) scale(0.834,1)" font-size="33.67" font-family="Liberation Serif, serif">)</text>
<text transform="translate(720.53,27.60) scale(0.933,1)" font-size="31.15" font-family="Liberation Serif, serif" font-style="italic">ζ</text>
<text transform="translate(742.72,30.31) scale(1.315,1)" font-size="33.20" font-family="Liberation Serif, serif">=</text>
<text transform="translate(775.29,27.60) scale(0.971,1)" font-size="31.15" font-family="Liberation Serif, serif" font-style="italic">ζ</text>
<text transform="translate(788.21,31.60) scale(1.226,1)" font-size="20.15" font-family="Liberation Serif, serif" font-weight="bold">3</text>
</g>
<g id="chart-e" transform="translate(655,384.5)">
<rect x="515.60" y="153.04" width="29.00" height="144.46" fill="#f8bcbc"/>
<rect x="518.60" y="154.84" width="23.00" height="142.66" fill="#ff7f7f"/>
<rect x="542.20" y="208.81" width="28.90" height="88.69" fill="#c0dcf0"/>
<rect x="545.20" y="210.61" width="22.90" height="86.89" fill="#80b5e0"/>
<rect x="608.75" y="143.05" width="29.00" height="154.45" fill="#f8bcbc"/>
<rect x="611.75" y="144.85" width="23.00" height="152.65" fill="#ff7f7f"/>
<rect x="635.35" y="202.15" width="28.90" height="95.35" fill="#c0dcf0"/>
<rect x="638.35" y="203.95" width="22.90" height="93.55" fill="#80b5e0"/>
<rect x="701.90" y="131.40" width="29.00" height="166.10" fill="#f8bcbc"/>
<rect x="704.90" y="133.20" width="23.00" height="164.30" fill="#ff7f7f"/>
<rect x="728.50" y="195.49" width="28.90" height="102.01" fill="#c0dcf0"/>
<rect x="731.50" y="197.29" width="22.90" height="100.21" fill="#80b5e0"/>
<rect x="795.05" y="118.08" width="29.00" height="179.42" fill="#f8bcbc"/>
<rect x="798.05" y="119.88" width="23.00" height="177.62" fill="#ff7f7f"/>
<rect x="821.65" y="187.16" width="28.90" height="110.34" fill="#c0dcf0"/>
<rect x="824.65" y="188.96" width="22.90" height="108.54" fill="#80b5e0"/>
<rect x="888.20" y="103.93" width="29.00" height="193.57" fill="#f8bcbc"/>
<rect x="891.20" y="105.73" width="23.00" height="191.77" fill="#ff7f7f"/>
<rect x="914.80" y="178.84" width="28.90" height="118.66" fill="#c0dcf0"/>
<rect x="917.80" y="180.64" width="22.90" height="116.86" fill="#80b5e0"/>
<path d="M496.0,297.5 L496.0,47.8 L963.5,47.8" fill="none" stroke="#3c3c3c" stroke-width="1.45"/>
<path d="M496.0,297.5 L963.5,297.5" fill="none" stroke="#3c3c3c" stroke-width="1.45"/>
<path d="M963.5,47.8 L963.5,297.5" fill="none" stroke="#a8606c" stroke-width="1.3"/>
<path d="M496.0,214.27 h5 M496.0,131.03 h5" stroke="#5a5a5a" stroke-width="1.05"/>
<path d="M963.5,247.56 h-5 M963.5,197.62 h-5 M963.5,147.68 h-5 M963.5,97.74 h-5" stroke="#a8606c" stroke-width="1.1"/>
<path d="M543.40,297.5 v-5 M543.40,47.8 v5 M636.55,297.5 v-5 M636.55,47.8 v5 M729.70,297.5 v-5 M729.70,47.8 v5 M822.85,297.5 v-5 M822.85,47.8 v5 M916.00,297.5 v-5 M916.00,47.8 v5" stroke="#5a5a5a" stroke-width="1.05"/>
<text transform="translate(488.2,306.20) scale(0.96,1)" font-size="24.5" font-family="Liberation Serif, serif" font-weight="bold" text-anchor="end" stroke="#000" stroke-width="0.45">0</text>
<text transform="translate(488.2,222.97) scale(0.96,1)" font-size="24.5" font-family="Liberation Serif, serif" font-weight="bold" text-anchor="end" stroke="#000" stroke-width="0.45">100</text>
<text transform="translate(488.2,139.73) scale(0.96,1)" font-size="24.5" font-family="Liberation Serif, serif" font-weight="bold" text-anchor="end" stroke="#000" stroke-width="0.45">200</text>
<text transform="translate(488.2,56.50) scale(0.96,1)" font-size="24.5" font-family="Liberation Serif, serif" font-weight="bold" text-anchor="end" stroke="#000" stroke-width="0.45">300</text>
<text transform="translate(971.6,306.70) scale(0.96,1)" font-size="24.5" font-family="Liberation Serif, serif" font-weight="bold" fill="#d40000" stroke="#d40000" stroke-width="0.45">0</text>
<text transform="translate(971.6,256.76) scale(0.96,1)" font-size="24.5" font-family="Liberation Serif, serif" font-weight="bold" fill="#d40000" stroke="#d40000" stroke-width="0.45">0.1</text>
<text transform="translate(971.6,206.82) scale(0.96,1)" font-size="24.5" font-family="Liberation Serif, serif" font-weight="bold" fill="#d40000" stroke="#d40000" stroke-width="0.45">0.2</text>
<text transform="translate(971.6,156.88) scale(0.96,1)" font-size="24.5" font-family="Liberation Serif, serif" font-weight="bold" fill="#d40000" stroke="#d40000" stroke-width="0.45">0.3</text>
<text transform="translate(971.6,106.94) scale(0.96,1)" font-size="24.5" font-family="Liberation Serif, serif" font-weight="bold" fill="#d40000" stroke="#d40000" stroke-width="0.45">0.4</text>
<text transform="translate(971.6,57.00) scale(0.96,1)" font-size="24.5" font-family="Liberation Serif, serif" font-weight="bold" fill="#d40000" stroke="#d40000" stroke-width="0.45">0.5</text>
<text transform="translate(543.40,327.5) scale(0.96,1)" font-size="24.5" font-family="Liberation Serif, serif" font-weight="bold" text-anchor="middle" stroke="#000" stroke-width="0.45">0.01</text>
<text transform="translate(636.55,327.5) scale(0.96,1)" font-size="24.5" font-family="Liberation Serif, serif" font-weight="bold" text-anchor="middle" stroke="#000" stroke-width="0.45">0.02</text>
<text transform="translate(729.70,327.5) scale(0.96,1)" font-size="24.5" font-family="Liberation Serif, serif" font-weight="bold" text-anchor="middle" stroke="#000" stroke-width="0.45">0.03</text>
<text transform="translate(822.85,327.5) scale(0.96,1)" font-size="24.5" font-family="Liberation Serif, serif" font-weight="bold" text-anchor="middle" stroke="#000" stroke-width="0.45">0.04</text>
<text transform="translate(916.00,327.5) scale(0.96,1)" font-size="24.5" font-family="Liberation Serif, serif" font-weight="bold" text-anchor="middle" stroke="#000" stroke-width="0.45">0.05</text>
<text transform="translate(530.15,149.94) scale(0.95,1)" font-size="23.8" font-family="Liberation Serif, serif" font-weight="bold" text-anchor="middle" stroke="#000" stroke-width="0.45">172</text>
<text transform="translate(556.65,205.71) scale(0.95,1)" font-size="23.8" font-family="Liberation Serif, serif" font-weight="bold" text-anchor="middle" stroke="#000" stroke-width="0.45">105</text>
<text transform="translate(623.30,139.95) scale(0.95,1)" font-size="23.8" font-family="Liberation Serif, serif" font-weight="bold" text-anchor="middle" stroke="#000" stroke-width="0.45">184</text>
<text transform="translate(649.80,199.05) scale(0.95,1)" font-size="23.8" font-family="Liberation Serif, serif" font-weight="bold" text-anchor="middle" stroke="#000" stroke-width="0.45">113</text>
<text transform="translate(716.45,128.30) scale(0.95,1)" font-size="23.8" font-family="Liberation Serif, serif" font-weight="bold" text-anchor="middle" stroke="#000" stroke-width="0.45">198</text>
<text transform="translate(742.95,192.39) scale(0.95,1)" font-size="23.8" font-family="Liberation Serif, serif" font-weight="bold" text-anchor="middle" stroke="#000" stroke-width="0.45">121</text>
<text transform="translate(800.70,121.38) scale(0.95,1)" font-size="23.8" font-family="Liberation Serif, serif" font-weight="bold" text-anchor="middle" stroke="#000" stroke-width="0.45">214</text>
<text transform="translate(836.10,184.06) scale(0.95,1)" font-size="23.8" font-family="Liberation Serif, serif" font-weight="bold" text-anchor="middle" stroke="#000" stroke-width="0.45">131</text>
<text transform="translate(902.75,100.83) scale(0.95,1)" font-size="23.8" font-family="Liberation Serif, serif" font-weight="bold" text-anchor="middle" stroke="#000" stroke-width="0.45">231</text>
<text transform="translate(929.25,175.74) scale(0.95,1)" font-size="23.8" font-family="Liberation Serif, serif" font-weight="bold" text-anchor="middle" stroke="#000" stroke-width="0.45">141</text>
<path d="M543.40,103.40 L636.55,105.40 L729.70,103.00 L822.85,104.20 L916.00,103.00" fill="none" stroke="#d5001a" stroke-width="3.4" stroke-dasharray="13.0 12.600000000000001" stroke-dashoffset="8.80"/>
<polygon points="543.40,93.40 550.60,103.40 543.40,113.40 536.20,103.40" fill="#ff0000" stroke="#c80000" stroke-width="0.7"/>
<polygon points="636.55,95.40 643.75,105.40 636.55,115.40 629.35,105.40" fill="#ff0000" stroke="#c80000" stroke-width="0.7"/>
<polygon points="729.70,93.00 736.90,103.00 729.70,113.00 722.50,103.00" fill="#ff0000" stroke="#c80000" stroke-width="0.7"/>
<polygon points="822.85,94.20 830.05,104.20 822.85,114.20 815.65,104.20" fill="#ff0000" stroke="#c80000" stroke-width="0.7"/>
<polygon points="916.00,93.00 923.20,103.00 916.00,113.00 908.80,103.00" fill="#ff0000" stroke="#c80000" stroke-width="0.7"/>
<text transform="translate(430.76,182.90) scale(1.217,1)" font-size="33.83" font-family="Liberation Serif, serif" font-style="italic">n</text>
<text transform="translate(1000.45,182.29) scale(1.029,1)" font-size="31.35" font-family="Liberation Serif, serif" font-style="italic" fill="#c01526">ϑ</text>
<text transform="translate(1018.87,186.99) scale(0.984,1)" font-size="21.26" font-family="Liberation Serif, serif" font-style="italic" fill="#c01526">ζ</text>
<text transform="translate(1032.65,182.40) scale(0.801,1)" font-size="34.78" font-family="Liberation Serif, serif" fill="#c01526">(</text>
<text transform="translate(1042.94,182.30) scale(0.840,1)" font-size="30.00" font-family="Liberation Serif, serif" font-style="italic" fill="#c01526">ϵ</text>
<text transform="translate(1055.48,182.40) scale(0.785,1)" font-size="34.78" font-family="Liberation Serif, serif" fill="#c01526">)</text>
<text transform="translate(694.36,358.00) scale(1.207,1)" font-size="31.82" font-family="Liberation Serif, serif">Δ</text>
<text x="721.85" y="357.99" font-size="27.65" font-family="Liberation Serif, serif" font-style="italic">p</text>
<text transform="translate(736.14,363.00) scale(1.105,1)" font-size="20.00" font-family="Liberation Serif, serif" font-style="italic">err</text>
<text transform="translate(661.01,27.43) scale(0.920,1)" font-size="33.67" font-family="Liberation Serif, serif">(</text>
<text transform="translate(671.06,26.91) scale(1.203,1)" font-size="29.38" font-family="Liberation Serif, serif" font-weight="bold">e</text>
<text transform="translate(687.66,27.43) scale(0.834,1)" font-size="33.67" font-family="Liberation Serif, serif">)</text>
<text transform="translate(718.92,27.60) scale(0.941,1)" font-size="31.15" font-family="Liberation Serif, serif" font-style="italic">ζ</text>
<text transform="translate(741.11,30.31) scale(1.321,1)" font-size="33.20" font-family="Liberation Serif, serif">=</text>
<text transform="translate(773.73,27.60) scale(0.933,1)" font-size="31.15" font-family="Liberation Serif, serif" font-style="italic">ζ</text>
<text transform="translate(787.36,31.30) scale(1.093,1)" font-size="20.45" font-family="Liberation Serif, serif" font-weight="bold">4</text>
</g>
<g id="legend">
<rect x="824.4" y="354.4" width="485.4" height="38.6" fill="#fff" stroke="#3c3c3c" stroke-width="1.4"/>
<rect x="830.0" y="361.6" width="48.3" height="24.5" fill="#ff7f7f" stroke="#f8bcbc" stroke-width="3.2"/>
<rect x="1033.3" y="361.7" width="49.5" height="24.0" fill="#80b5e0" stroke="#c0dcf0" stroke-width="3.2"/>
<text transform="translate(884.77,378.50) scale(1.250,1)" font-size="21.28" font-family="Liberation Serif, serif" font-style="italic">n</text>
<text transform="translate(897.96,382.80) scale(1.045,1)" font-size="16.36" font-family="Liberation Serif, serif">min</text>
<text transform="translate(928.03,379.73) scale(0.859,1)" font-size="25.11" font-family="Liberation Serif, serif">(</text>
<text transform="translate(935.40,377.79) scale(1.411,1)" font-size="21.34" font-family="Liberation Serif, serif" font-style="italic">S</text>
<text transform="translate(948.16,383.60) scale(1.896,1)" font-size="15.75" font-family="DejaVu Serif, serif">𝕀</text>
<text transform="translate(962.00,387.35) scale(0.975,1)" font-size="25.37" font-family="Liberation Serif, serif">/</text>
<text transform="translate(970.24,383.60) scale(1.120,1)" font-size="16.38" font-family="Liberation Serif, serif" font-weight="bold">m</text>
<text transform="translate(985.49,378.30) scale(1.041,1)" font-size="12.27" font-family="Liberation Serif, serif" font-weight="bold">2</text>
<text transform="translate(995.06,379.72) scale(0.906,1)" font-size="25.88" font-family="Liberation Serif, serif">,</text>
<text transform="translate(1003.66,378.29) scale(1.031,1)" font-size="20.83" font-family="Liberation Serif, serif" font-style="italic">ϵ</text>
<text transform="translate(1015.05,379.73) scale(0.858,1)" font-size="25.11" font-family="Liberation Serif, serif">)</text>
<text transform="translate(1087.48,378.50) scale(1.106,1)" font-size="21.28" font-family="Liberation Serif, serif" font-style="italic">n</text>
<text transform="translate(1101.66,382.80) scale(1.033,1)" font-size="16.36" font-family="Liberation Serif, serif">min</text>
<text transform="translate(1130.69,379.49) scale(0.852,1)" font-size="26.22" font-family="Liberation Serif, serif">(</text>
<text transform="translate(1138.79,379.35) scale(1.242,1)" font-size="24.93" font-family="Liberation Serif, serif" font-style="italic">S</text>
<text transform="translate(1153.17,382.86) scale(0.914,1)" font-size="15.52" font-family="Liberation Serif, serif" font-style="italic">ζ</text>
<text transform="translate(1162.96,379.74) scale(0.934,1)" font-size="25.10" font-family="Liberation Serif, serif">,</text>
<text transform="translate(1172.91,379.38) scale(0.883,1)" font-size="22.08" font-family="Liberation Serif, serif" font-style="italic">ϵ</text>
<text transform="translate(1182.98,379.49) scale(0.792,1)" font-size="26.22" font-family="Liberation Serif, serif">)</text>
<path d="M1200.6,373.2 H1239.7" stroke="#d5001a" stroke-width="3.4" stroke-dasharray="12.4 13.2"/>
<polygon points="1225.9,362.8 1233.2,373.2 1225.9,383.6 1218.6,373.2" fill="#ff0000" stroke="#c80000" stroke-width="0.7"/>
<text x="1253.79" y="379.55" font-size="24.68" font-family="Liberation Serif, serif" font-style="italic">ϑ</text>
<text transform="translate(1268.42,382.86) scale(1.034,1)" font-size="15.52" font-family="Liberation Serif, serif" font-style="italic">ζ</text>
<text transform="translate(1279.05,379.26) scale(0.818,1)" font-size="25.89" font-family="Liberation Serif, serif">(</text>
<text transform="translate(1287.25,379.38) scale(0.827,1)" font-size="22.08" font-family="Liberation Serif, serif" font-style="italic">ϵ</text>
<text transform="translate(1296.74,379.26) scale(0.847,1)" font-size="25.89" font-family="Liberation Serif, serif">)</text>
</g>
</svg></body></html>
